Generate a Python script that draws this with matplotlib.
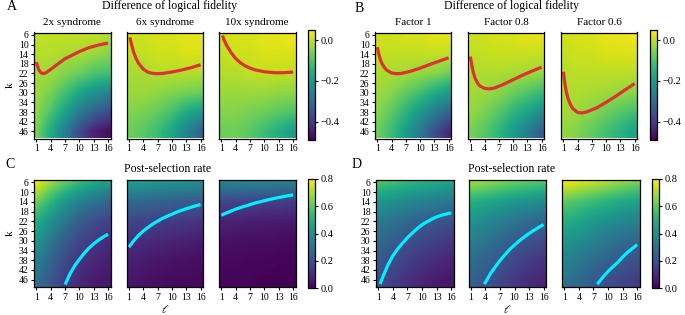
import numpy as np
import matplotlib
matplotlib.use("Agg")
import matplotlib.pyplot as plt

plt.rcParams["font.family"] = ["Liberation Serif", "DejaVu Serif"]
plt.rcParams["mathtext.fontset"] = "stix"

ell_grid = [1, 4, 7, 10, 13, 16]
k_grid = [6, 14, 22, 30, 38, 46]

# Difference of logical fidelity (rows = k_grid, cols = ell_grid)
fid_2x = [[0.00, 0.00, 0.00, 0.00, 0.00, -0.01],
          [-0.01, -0.01, -0.02, -0.02, -0.03, -0.05],
          [-0.02, -0.03, -0.05, -0.07, -0.10, -0.11],
          [-0.03, -0.06, -0.11, -0.17, -0.21, -0.24],
          [-0.04, -0.10, -0.18, -0.26, -0.32, -0.36],
          [-0.06, -0.16, -0.26, -0.37, -0.44, -0.47]]
fid_6x = [[0.01, 0.01, 0.02, 0.02, 0.03, 0.03],
          [0.00, 0.00, 0.01, 0.01, 0.02, 0.02],
          [-0.02, -0.02, -0.01, -0.01, -0.01, -0.01],
          [-0.03, -0.03, -0.04, -0.05, -0.06, -0.07],
          [-0.05, -0.06, -0.08, -0.11, -0.16, -0.19],
          [-0.07, -0.09, -0.12, -0.18, -0.25, -0.32]]
fid_10x = [[0.01, 0.02, 0.02, 0.03, 0.03, 0.04],
           [0.00, 0.01, 0.01, 0.02, 0.02, 0.02],
           [-0.01, -0.01, 0.00, 0.00, 0.00, 0.00],
           [-0.03, -0.03, -0.03, -0.03, -0.04, -0.04],
           [-0.05, -0.05, -0.06, -0.07, -0.085, -0.10],
           [-0.07, -0.07, -0.09, -0.12, -0.155, -0.19]]
fid_f1 = [[0.01, 0.01, 0.02, 0.02, 0.03, 0.03],
          [0.00, 0.00, 0.00, 0.00, 0.00, 0.00],
          [-0.015, -0.02, -0.025, -0.035, -0.045, -0.065],
          [-0.03, -0.045, -0.08, -0.11, -0.155, -0.19],
          [-0.045, -0.085, -0.14, -0.20, -0.26, -0.31],
          [-0.07, -0.12, -0.19, -0.27, -0.355, -0.425]]
fid_f08 = [[0.01, 0.01, 0.02, 0.02, 0.03, 0.035],
           [0.00, 0.00, 0.005, 0.005, 0.005, 0.005],
           [-0.015, -0.015, -0.015, -0.02, -0.025, -0.035],
           [-0.025, -0.03, -0.045, -0.07, -0.095, -0.12],
           [-0.035, -0.06, -0.09, -0.135, -0.175, -0.22],
           [-0.06, -0.09, -0.135, -0.195, -0.26, -0.33]]
fid_f06 = [[0.01, 0.02, 0.02, 0.03, 0.035, 0.04],
           [0.00, 0.01, 0.01, 0.02, 0.02, 0.02],
           [-0.01, -0.005, -0.005, -0.005, -0.005, -0.005],
           [-0.015, -0.015, -0.02, -0.025, -0.035, -0.045],
           [-0.025, -0.03, -0.045, -0.07, -0.09, -0.11],
           [-0.035, -0.055, -0.08, -0.11, -0.145, -0.18]]

# Post-selection rate
ps_2x = [[0.78, 0.68, 0.60, 0.53, 0.48, 0.44],
         [0.62, 0.52, 0.42, 0.35, 0.30, 0.26],
         [0.50, 0.40, 0.31, 0.24, 0.19, 0.16],
         [0.42, 0.32, 0.23, 0.17, 0.13, 0.10],
         [0.35, 0.26, 0.18, 0.12, 0.09, 0.07],
         [0.30, 0.22, 0.14, 0.09, 0.06, 0.05]]
ps_6x = [[0.44, 0.43, 0.42, 0.41, 0.40, 0.39],
         [0.27, 0.26, 0.25, 0.24, 0.23, 0.22],
         [0.17, 0.16, 0.15, 0.14, 0.13, 0.12],
         [0.11, 0.10, 0.09, 0.08, 0.07, 0.06],
         [0.07, 0.06, 0.05, 0.04, 0.035, 0.03],
         [0.05, 0.04, 0.03, 0.025, 0.02, 0.015]]
ps_10x = [[0.36, 0.36, 0.35, 0.35, 0.34, 0.34],
          [0.17, 0.16, 0.16, 0.15, 0.15, 0.14],
          [0.08, 0.075, 0.07, 0.065, 0.06, 0.055],
          [0.04, 0.035, 0.03, 0.03, 0.025, 0.02],
          [0.02, 0.02, 0.015, 0.015, 0.01, 0.01],
          [0.01, 0.01, 0.01, 0.005, 0.005, 0.005]]
ps_f1 = [[0.57, 0.55, 0.52, 0.50, 0.48, 0.46],
         [0.42, 0.40, 0.37, 0.35, 0.33, 0.31],
         [0.33, 0.30, 0.27, 0.24, 0.22, 0.20],
         [0.27, 0.24, 0.20, 0.17, 0.15, 0.13],
         [0.22, 0.19, 0.15, 0.12, 0.10, 0.08],
         [0.19, 0.15, 0.11, 0.08, 0.06, 0.05]]
ps_f08 = [[0.68, 0.66, 0.63, 0.61, 0.59, 0.57],
          [0.50, 0.48, 0.45, 0.42, 0.40, 0.38],
          [0.41, 0.38, 0.34, 0.31, 0.28, 0.26],
          [0.34, 0.31, 0.27, 0.23, 0.20, 0.18],
          [0.29, 0.25, 0.21, 0.17, 0.14, 0.12],
          [0.25, 0.21, 0.17, 0.13, 0.10, 0.08]]
ps_f06 = [[0.78, 0.75, 0.72, 0.69, 0.66, 0.63],
          [0.60, 0.57, 0.54, 0.51, 0.48, 0.46],
          [0.50, 0.47, 0.43, 0.40, 0.37, 0.35],
          [0.42, 0.39, 0.35, 0.31, 0.28, 0.26],
          [0.36, 0.32, 0.28, 0.25, 0.22, 0.20],
          [0.31, 0.27, 0.23, 0.19, 0.16, 0.14]]

# red curves (optimal k per ell) for the fidelity panels
red_2x_ell = [1, 1.5, 2, 2.5, 3, 4, 5, 6, 7, 8, 10, 12, 14, 16]
red_2x_k = [17.3, 20.5, 21.8, 22, 21.7, 20.3, 18.8, 17.3, 15.9, 14.9, 12.9, 11.3, 10.2, 9.4]
red_6x_ell = [1.2, 1.5, 2, 2.5, 3, 4, 5, 6, 7, 8, 10, 12, 14, 16]
red_6x_k = [7, 9.5, 13.2, 15.8, 17.7, 20.2, 21.5, 22, 22.1, 22, 21.4, 20.6, 19.6, 18.4]
red_10x_ell = [1.2, 1.5, 2, 3, 4, 5, 6, 7, 8, 10, 12, 14, 16]
red_10x_k = [6.3, 7.8, 10, 13.3, 15.8, 17.6, 18.9, 19.8, 20.5, 21.3, 21.7, 21.7, 21.4]
red_f1_ell = [1, 1.3, 1.7, 2, 2.5, 3, 4, 5, 6, 8, 10, 12, 14, 16]
red_f1_k = [11.1, 14, 16.6, 18, 19.6, 20.7, 21.8, 22.1, 22, 21.1, 19.8, 18.3, 16.9, 15.5]
red_f08_ell = [1, 1.3, 1.6, 2, 2.5, 3, 4, 5, 6, 8, 10, 12, 14, 16]
red_f08_k = [15, 18.5, 21.5, 24, 26, 27.2, 28.2, 28.4, 28.1, 26.5, 24.6, 22.7, 21, 19.4]
red_f06_ell = [1, 1.3, 1.6, 2, 2.5, 3, 4, 5, 6, 8, 10, 12, 14, 16]
red_f06_k = [21.3, 26, 29.5, 32.5, 35, 36.6, 38.2, 38.4, 37.9, 36.3, 34, 31.5, 28.8, 26.2]

# cyan curves for the post-selection panels
cy_2x_ell = [7, 8, 9, 10, 11, 12, 13, 14, 15, 16]
cy_2x_k = [48, 43.7, 40.3, 37.6, 35.1, 33, 31.2, 29.7, 28.4, 27.3]
cy_6x_ell = [1, 2, 3, 4, 5, 6, 7, 8, 9, 10, 11, 12, 13, 14, 15, 16]
cy_6x_k = [32.6, 30, 27.8, 26, 24.5, 23.1, 21.9, 20.8, 19.9, 19.1, 18.2, 17.5, 16.8, 16.2, 15.6, 15.1]
cy_10x_ell = [1, 2, 4, 6, 8, 10, 12, 14, 16]
cy_10x_k = [19.5, 18.6, 17, 15.7, 14.5, 13.5, 12.6, 11.8, 11.1]
cy_f1_ell = [1.35, 2, 3, 4, 5, 6, 7, 8, 9, 10, 11, 12, 13, 14, 15, 16]
cy_f1_k = [47.8, 44.4, 39.8, 36.1, 33.3, 30.9, 28.7, 26.8, 25, 23.4, 22.2, 21.1, 20.2, 19.5, 19, 18.5]
cy_f08_ell = [3.76, 4, 5, 6, 7, 8, 9, 10, 11, 12, 13, 14, 15, 16]
cy_f08_k = [47.8, 47.1, 43.6, 40.8, 38.1, 35.8, 33.6, 31.7, 30, 28.4, 27, 25.7, 24.5, 23.3]
cy_f06_ell = [7.77, 8, 9, 10, 11, 12, 13, 14, 15, 16]
cy_f06_k = [47.8, 47.3, 44.8, 42.6, 40.7, 38.9, 36.7, 34.8, 33.2, 31.6]

x_ticks = [1, 4, 7, 10, 13, 16]
y_ticks = list(range(6, 47, 4))

W, H = 685, 315
fig = plt.figure(figsize=(W / 100, H / 100), dpi=100)


def box(x0, y0, x1, y1):
    return [x0 / W, 1 - y1 / H, (x1 - x0) / W, (y1 - y0) / H]


def panel(rect, data, vmin, vmax, ell, kk, color, first, xlabel=False):
    ax = fig.add_axes(rect)
    im = ax.imshow(np.array(data), cmap="viridis", vmin=vmin, vmax=vmax,
                   extent=(-0.5, 17.5, 50, 2), interpolation="bilinear",
                   aspect="auto")
    ax.plot(ell, kk, color=color, lw=2.3, solid_capstyle="butt")
    ax.set_xlim(0.5, 16.5)
    ax.set_ylim(49, 5)
    ax.set_xticks(x_ticks)
    ax.tick_params(labelsize=7, length=2.5, width=0.8, pad=1.5)
    if first:
        ax.set_yticks(y_ticks)
    else:
        ax.set_yticks([])
    if xlabel:
        ax.set_xlabel(r"$\ell$", fontsize=8, labelpad=1)
    for s in ax.spines.values():
        s.set_linewidth(0.9)
    return ax, im


def cbar(im, rect, ticks):
    cax = fig.add_axes(rect)
    cb = fig.colorbar(im, cax=cax, ticks=ticks)
    cb.ax.tick_params(labelsize=7.5, length=2.5, width=0.8, pad=2)
    cb.outline.set_linewidth(0.9)


red = "#dc3232"
cyan = "#00f0ff"

# top-left block A
lefts_a = [34, 126.5, 219]
top_sets_a = [(fid_2x, red_2x_ell, red_2x_k, "2x syndrome"),
              (fid_6x, red_6x_ell, red_6x_k, "6x syndrome"),
              (fid_10x, red_10x_ell, red_10x_k, "10x syndrome")]
for i, (d, e, kk, t) in enumerate(top_sets_a):
    ax, im = panel(box(lefts_a[i], 32.5, lefts_a[i] + 76.5, 138.5), d, -0.49, 0.05,
                   e, kk, red, i == 0)
    fig.text((lefts_a[i] + 38) / W, 1 - 22.5 / H, t, ha="center", va="center", fontsize=8)
    if i == 0:
        ax.set_ylabel("k", fontsize=8, labelpad=3)
cbar(im, box(308, 30, 314.5, 140), [-0.4, -0.2, 0.0])

# top-right block B
lefts_b = [375, 468, 561]
top_sets_b = [(fid_f1, red_f1_ell, red_f1_k, "Factor 1"),
              (fid_f08, red_f08_ell, red_f08_k, "Factor 0.8"),
              (fid_f06, red_f06_ell, red_f06_k, "Factor 0.6")]
for i, (d, e, kk, t) in enumerate(top_sets_b):
    ax, im = panel(box(lefts_b[i], 32.5, lefts_b[i] + 76, 138.5), d, -0.49, 0.05,
                   e, kk, red, i == 0)
    fig.text((lefts_b[i] + 38) / W, 1 - 22.5 / H, t, ha="center", va="center", fontsize=8)
cbar(im, box(650, 30, 656.5, 140), [-0.4, -0.2, 0.0])

# bottom-left block C
bot_sets_c = [(ps_2x, cy_2x_ell, cy_2x_k), (ps_6x, cy_6x_ell, cy_6x_k),
              (ps_10x, cy_10x_ell, cy_10x_k)]
for i, (d, e, kk) in enumerate(bot_sets_c):
    ax, im = panel(box(lefts_a[i], 180, lefts_a[i] + 76.5, 287), d, 0.0, 0.8,
                   e, kk, cyan, i == 0, xlabel=(i == 1))
    if i == 0:
        ax.set_ylabel("k", fontsize=8, labelpad=3)
cbar(im, box(307.5, 179, 314.5, 288), [0.0, 0.2, 0.4, 0.6, 0.8])

# bottom-right block D
lefts_d = [376, 468.5, 562]
bot_sets_d = [(ps_f1, cy_f1_ell, cy_f1_k), (ps_f08, cy_f08_ell, cy_f08_k),
              (ps_f06, cy_f06_ell, cy_f06_k)]
for i, (d, e, kk) in enumerate(bot_sets_d):
    ax, im = panel(box(lefts_d[i], 180, lefts_d[i] + 77.5, 287), d, 0.0, 0.8,
                   e, kk, cyan, i == 0, xlabel=(i == 1))
cbar(im, box(651.5, 179, 658.5, 288), [0.0, 0.2, 0.4, 0.6, 0.8])

# titles and panel letters
fig.text(169 / W, 1 - 5.5 / H, "Difference of logical fidelity", ha="center", va="center", fontsize=8.5)
fig.text(511 / W, 1 - 5.5 / H, "Difference of logical fidelity", ha="center", va="center", fontsize=8.5)
fig.text(168 / W, 1 - 169.5 / H, "Post-selection rate", ha="center", va="center", fontsize=8.5)
fig.text(512 / W, 1 - 169.5 / H, "Post-selection rate", ha="center", va="center", fontsize=8.5)
fig.text(11.5 / W, 1 - 7 / H, "A", ha="center", va="center", fontsize=10)
fig.text(359.5 / W, 1 - 9 / H, "B", ha="center", va="center", fontsize=10)
fig.text(10 / W, 1 - 165 / H, "C", ha="center", va="center", fontsize=10)
fig.text(357 / W, 1 - 165 / H, "D", ha="center", va="center", fontsize=10)

fig.savefig("out.png", dpi=100)
